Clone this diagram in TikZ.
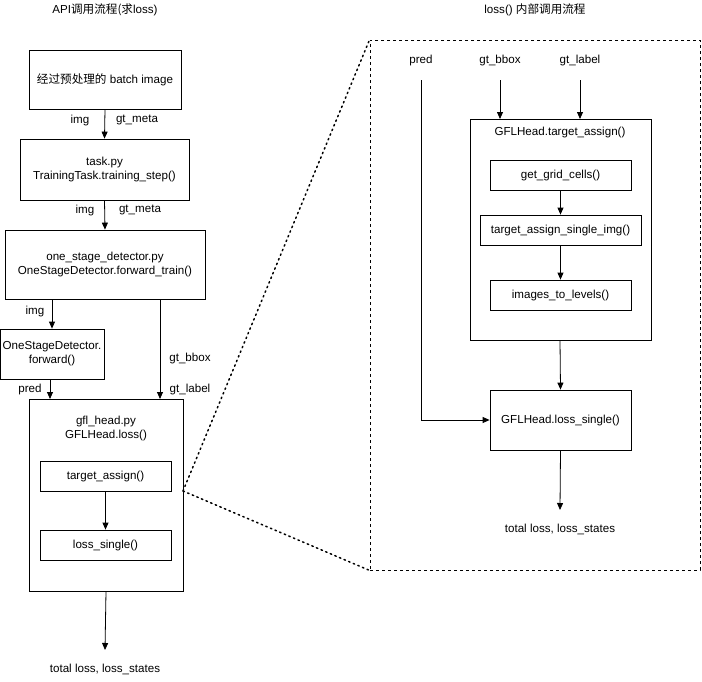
\documentclass[tikz,border=0pt]{standalone}
\usepackage{fontspec}
\setmainfont{Liberation Sans}
\newfontfamily\cjk{Noto Sans CJK SC}
\usetikzlibrary{arrows.meta}
\begin{document}
\begin{tikzpicture}[x=1pt,y=-1pt,font=\fontsize{11.6}{14}\selectfont,
  bx/.style={draw,line width=0.8pt,align=center,inner sep=0pt},
  ar/.style={draw,line width=0.8pt,-{Triangle[length=7pt,width=6pt]}},
  dl/.style={line width=1.5pt,dash pattern=on 1.5pt off 3.5pt,line cap=round},
  lb/.style={inner sep=1pt}]
\useasboundingbox (0,0) rectangle (702,681);
\node (t1) at (105,10) {API{\cjk 调用流程(求}loss)};
\node (t2) at (535,10) {loss() {\cjk 内部调用流程}};
% left
\node[bx,minimum width=152pt,minimum height=59pt] (b1) at (105,79.5) {{\cjk 经过预处理的} batch image};
\node[bx,minimum width=169pt,minimum height=61pt] (b2) at (104.5,169.5) {task.py\\TrainingTask.training\_step()};
\node[bx,minimum width=200pt,minimum height=69pt] (b3) at (105,264.5) {one\_stage\_detector.py\\OneStageDetector.forward\_train()};
\node[bx,minimum width=104pt,minimum height=50pt] (b4) at (52,354) {OneStageDetector.\\forward()};
\node[bx,minimum width=154pt,minimum height=192pt] (b5) at (106,495) {};
\node (b5t) at (106,428) [align=center] {gfl\_head.py\\GFLHead.loss()};
\node[bx,minimum width=131pt,minimum height=30pt] (b5a) at (105.5,476) {target\_assign()};
\node[bx,minimum width=131pt,minimum height=30pt] (b5b) at (105.5,545) {loss\_single()};
\node (tl) at (105,669) {total loss, loss\_states};
\coordinate (e1) at (105,650);
\draw[ar] (b1.south) -- (b2.north);
\node[lb] at (80,120) {img}; \node[lb] at (137,120) {gt\_meta};
\draw[ar] (b2.south) -- (b3.north);
\node[lb] at (85,210) {img}; \node[lb] at (140,210) {gt\_meta};
\draw[ar] (b3.south -| b4.north) -- (b4.north);
\node[lb] at (35,311) {img};
\draw[ar] (160,299) -- (160,399);
\node[lb] at (190,358) {gt\_bbox}; \node[lb] at (190,389) {gt\_label};
\draw[ar] (50,379) -- (50,399);
\node[lb] at (30,389) {pred};
\draw[ar] (b5a) -- (b5b);
\draw[ar] (b5.south) -- (e1);
% right
\node[draw,dashed,line width=0.8pt,minimum width=330pt,minimum height=530pt,inner sep=0pt] (rb) at (535,305) {};
\draw[dl] (183,491) -- (rb.north west);
\draw[dl] (183,491) -- (rb.south west);
\node (p) at (421,60) {pred};
\node (gb) at (500,60) {gt\_bbox};
\node (gl) at (580,60) {gt\_label};
\node[bx,minimum width=181pt,minimum height=221pt] (ta) at (560.5,229.5) {};
\node at (560,132) {GFLHead.target\_assign()};
\node[bx,minimum width=141pt,minimum height=30pt] (g1) at (560.5,175) {get\_grid\_cells()};
\node[bx,minimum width=161pt,minimum height=30pt] (g2) at (560.5,230) {target\_assign\_single\_img()};
\node[bx,minimum width=141pt,minimum height=30pt] (g3) at (560.5,295) {images\_to\_levels()};
\node[bx,minimum width=141pt,minimum height=60pt] (ls) at (560.5,420) {GFLHead.loss\_single()};
\node (tr) at (560,529) {total loss, loss\_states};
\coordinate (e2) at (560,510);
\draw[ar] (500,80) -- (500,119);
\draw[ar] (580,80) -- (580,119);
\draw[ar] (g1) -- (g2);
\draw[ar] (g2) -- (g3);
\draw[ar] (560,340) -- (ls.north);
\draw[ar] (421,80) -- (421,420) -- (ls.west);
\draw[ar] (ls.south) -- (e2);
\end{tikzpicture}
\end{document}
